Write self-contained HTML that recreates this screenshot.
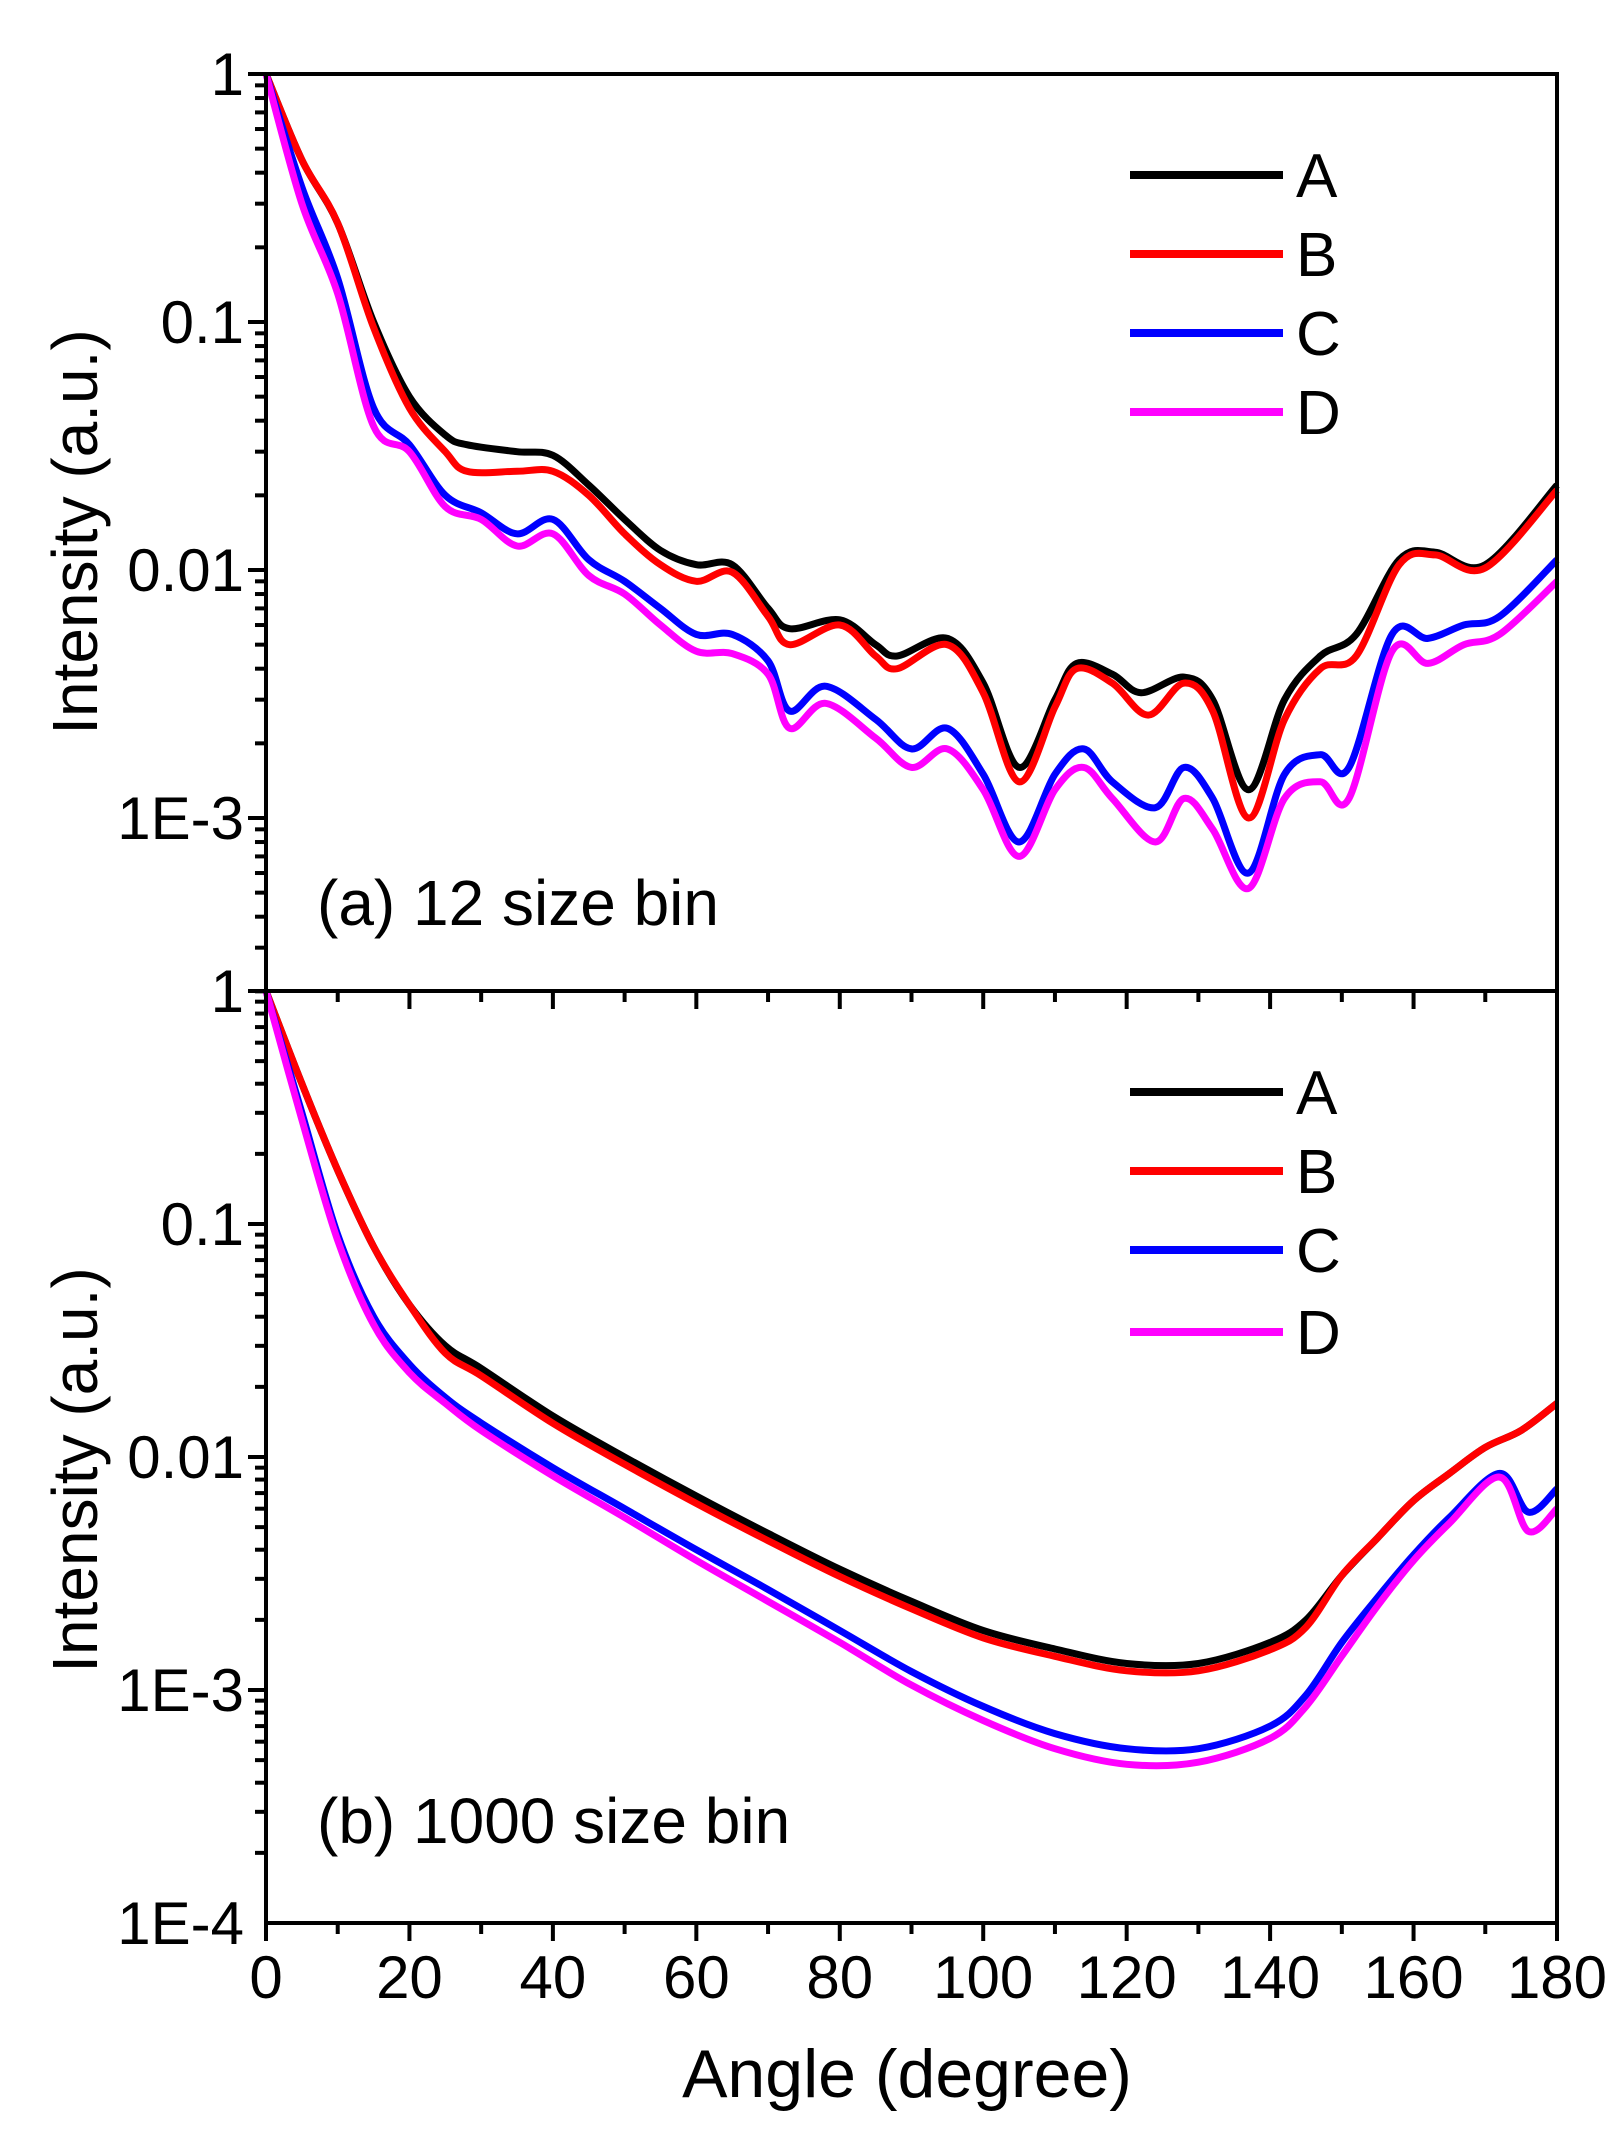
<!DOCTYPE html>
<html><head><meta charset="utf-8"><style>
html,body{margin:0;padding:0;background:#fff}
svg{display:block}
text{font-family:"Liberation Sans",Arial,sans-serif;fill:#000}
</style></head><body>
<svg id="s" width="1624" height="2152" viewBox="0 0 1624 2152" xmlns="http://www.w3.org/2000/svg">
<g id="g"></g>
<text x="317" y="925" font-size="64">(a) 12 size bin</text>
<text x="317" y="1843" font-size="64">(b) 1000 size bin</text>
<text x="907" y="2097" font-size="68" text-anchor="middle">Angle (degree)</text>
<text transform="translate(97,532) rotate(-90)" font-size="64" text-anchor="middle">Intensity (a.u.)</text>
<text transform="translate(97,1470) rotate(-90)" font-size="64" text-anchor="middle">Intensity (a.u.)</text>
</svg>
<script>
const L=266,R=1557,xs=(R-L)/180;
const P=[{top:74,bot:991,dec:248},{top:991,bot:1923,dec:233}];
const X=a=>L+a*xs;
let h='';
function path(pts,pi,col,w){
 const p=P[pi];
 const q=pts.map(([a,v])=>[X(a),p.top-Math.log10(v)*p.dec]);
 let d='M'+q[0][0].toFixed(1)+' '+q[0][1].toFixed(1);
 for(let i=0;i<q.length-1;i++){
  const p0=q[Math.max(0,i-1)],p1=q[i],p2=q[i+1],p3=q[Math.min(q.length-1,i+2)];
  const c1=[p1[0]+(p2[0]-p0[0])/6,p1[1]+(p2[1]-p0[1])/6];
  const c2=[p2[0]-(p3[0]-p1[0])/6,p2[1]-(p3[1]-p1[1])/6];
  d+=`C${c1[0].toFixed(1)} ${c1[1].toFixed(1)} ${c2[0].toFixed(1)} ${c2[1].toFixed(1)} ${p2[0].toFixed(1)} ${p2[1].toFixed(1)}`;
 }
 h+=`<path d="${d}" fill="none" stroke="${col}" stroke-width="${w}" stroke-linejoin="round"/>`;
}
const aA=[[0,1],[5,0.45],[10,0.25],[15,0.1],[20,0.05],[25,0.035],[28,0.032],[35,0.03],[40,0.029],[45,0.022],[50,0.016],[55,0.012],[60,0.0105],[65,0.0105],[70,0.007],[73,0.0058],[80,0.0063],[85,0.005],[88,0.0045],[95,0.0053],[100,0.0035],[105,0.0016],[110,0.003],[113,0.0042],[118,0.0038],[122,0.0032],[128,0.0037],[132,0.003],[137,0.0013],[142,0.003],[147,0.0045],[152,0.0055],[158,0.011],[163,0.0118],[170,0.0105],[180,0.022]];
const aB=[[0,1],[5,0.45],[10,0.25],[15,0.095],[20,0.045],[25,0.03],[28,0.025],[35,0.025],[40,0.025],[45,0.02],[50,0.014],[55,0.0105],[60,0.009],[65,0.0098],[70,0.0065],[73,0.005],[80,0.006],[85,0.0045],[88,0.004],[95,0.005],[100,0.0032],[105,0.0014],[110,0.0028],[113,0.004],[118,0.0035],[123,0.0026],[128,0.0035],[132,0.0027],[137,0.001],[142,0.0025],[147,0.004],[152,0.0045],[158,0.0105],[163,0.0115],[170,0.0102],[180,0.021]];
const aC=[[0,1],[5,0.35],[10,0.15],[15,0.045],[20,0.032],[25,0.02],[30,0.017],[35,0.014],[40,0.016],[45,0.011],[50,0.009],[55,0.007],[60,0.0055],[65,0.0055],[70,0.0043],[73,0.0027],[78,0.0034],[85,0.0025],[90,0.0019],[95,0.0023],[100,0.0015],[105,0.0008],[110,0.0015],[114,0.0019],[118,0.0014],[124,0.0011],[128,0.0016],[132,0.0012],[137,0.0006],[142,0.0015],[147,0.0018],[151,0.0016],[157,0.0055],[162,0.0053],[167,0.006],[172,0.0065],[180,0.011]];
const aD=[[0,1],[5,0.3],[10,0.13],[15,0.038],[20,0.03],[25,0.018],[30,0.016],[35,0.0125],[40,0.014],[45,0.0095],[50,0.008],[55,0.006],[60,0.0047],[65,0.0046],[70,0.0038],[73,0.0023],[78,0.0029],[85,0.0021],[90,0.0016],[95,0.0019],[100,0.0013],[105,0.0007],[110,0.0013],[114,0.0016],[118,0.0012],[124,0.0008],[128,0.0012],[132,0.0009],[137,0.00052],[142,0.0012],[147,0.0014],[151,0.0012],[157,0.0047],[162,0.0042],[167,0.005],[172,0.0055],[180,0.009]];
const bA=[[0,1],[5,0.4],[10,0.17],[15,0.08],[20,0.045],[25,0.03],[30,0.024],[40,0.015],[50,0.01],[60,0.0068],[70,0.0047],[80,0.0033],[90,0.0024],[100,0.0018],[110,0.0015],[120,0.0013],[130,0.0013],[140,0.0016],[145,0.002],[150,0.0031],[155,0.0045],[160,0.0065],[165,0.0085],[170,0.011],[175,0.013],[180,0.017]];
const bB=bA.map(([a,v])=>[a,a>20&&a<150?v*0.93:v]);
const bC=[[0,1],[5,0.3],[10,0.09],[15,0.04],[20,0.025],[25,0.018],[30,0.014],[40,0.009],[50,0.006],[60,0.004],[70,0.0027],[80,0.0018],[90,0.0012],[100,0.00085],[110,0.00065],[120,0.00056],[130,0.00056],[140,0.0007],[145,0.00095],[150,0.0016],[155,0.0025],[160,0.0038],[165,0.0055],[172,0.0085],[176,0.0058],[180,0.0073]];
const bD=[[0,1],[5,0.28],[10,0.085],[15,0.037],[20,0.023],[25,0.017],[30,0.013],[40,0.0083],[50,0.0055],[60,0.0036],[70,0.0024],[80,0.0016],[90,0.00105],[100,0.00074],[110,0.00056],[120,0.00048],[130,0.00049],[140,0.00062],[145,0.00085],[150,0.0014],[155,0.0023],[160,0.0036],[165,0.0052],[172,0.0082],[176,0.0048],[180,0.006]];
path(aA,0,'#000',7);path(aB,0,'#f00',7);path(aC,0,'#00f',7);path(aD,0,'#f0f',7);
path(bA,1,'#000',7);path(bB,1,'#f00',7);path(bC,1,'#00f',7);path(bD,1,'#f0f',7);
h+=`<rect x="${L}" y="74" width="${R-L}" height="${1923-74}" fill="none" stroke="#000" stroke-width="4"/>`;
h+=`<line x1="${L}" y1="991" x2="${R}" y2="991" stroke="#000" stroke-width="4"/>`;
for(let a=0;a<=180;a+=10){const x=X(a),len=a%20==0?18:11;
 h+=`<line x1="${x}" y1="1923" x2="${x}" y2="${1923+len}" stroke="#000" stroke-width="4"/>`;
 h+=`<line x1="${x}" y1="991" x2="${x}" y2="${991+len}" stroke="#000" stroke-width="4"/>`;
 if(a%20==0)h+=`<text x="${x}" y="1998" font-size="60" text-anchor="middle">${a}</text>`;}
function yt(pi,decs,labels){const p=P[pi];
 for(let d=0;d<decs;d++){for(let m=1;m<10;m++){
  const Y=p.top+(d+1-Math.log10(m))*p.dec-(m==1?p.dec:0); if(Y>p.bot+1)continue;
  h+=`<line x1="${L}" y1="${Y}" x2="${L-(m==1?18:11)}" y2="${Y}" stroke="#000" stroke-width="4"/>`;}}
 labels.forEach((t,i)=>{const Y=p.top+i*p.dec;h+=`<text x="244" y="${Y+21}" font-size="60" text-anchor="end">${t}</text>`;});
}
yt(0,4,['1','0.1','0.01','1E-3']);
yt(1,4,['1','0.1','0.01','1E-3','1E-4']);
function leg(ys){const c=['#000','#f00','#00f','#f0f'],t=['A','B','C','D'];
 ys.forEach((y,i)=>{h+=`<line x1="1130" y1="${y}" x2="1283" y2="${y}" stroke="${c[i]}" stroke-width="8"/>`;
 h+=`<text x="1296" y="${y+22}" font-size="62">${t[i]}</text>`;});}
leg([175,254,333,412]);leg([1092,1171,1250,1332]);
document.getElementById('g').innerHTML=h;
</script>
</body></html>
